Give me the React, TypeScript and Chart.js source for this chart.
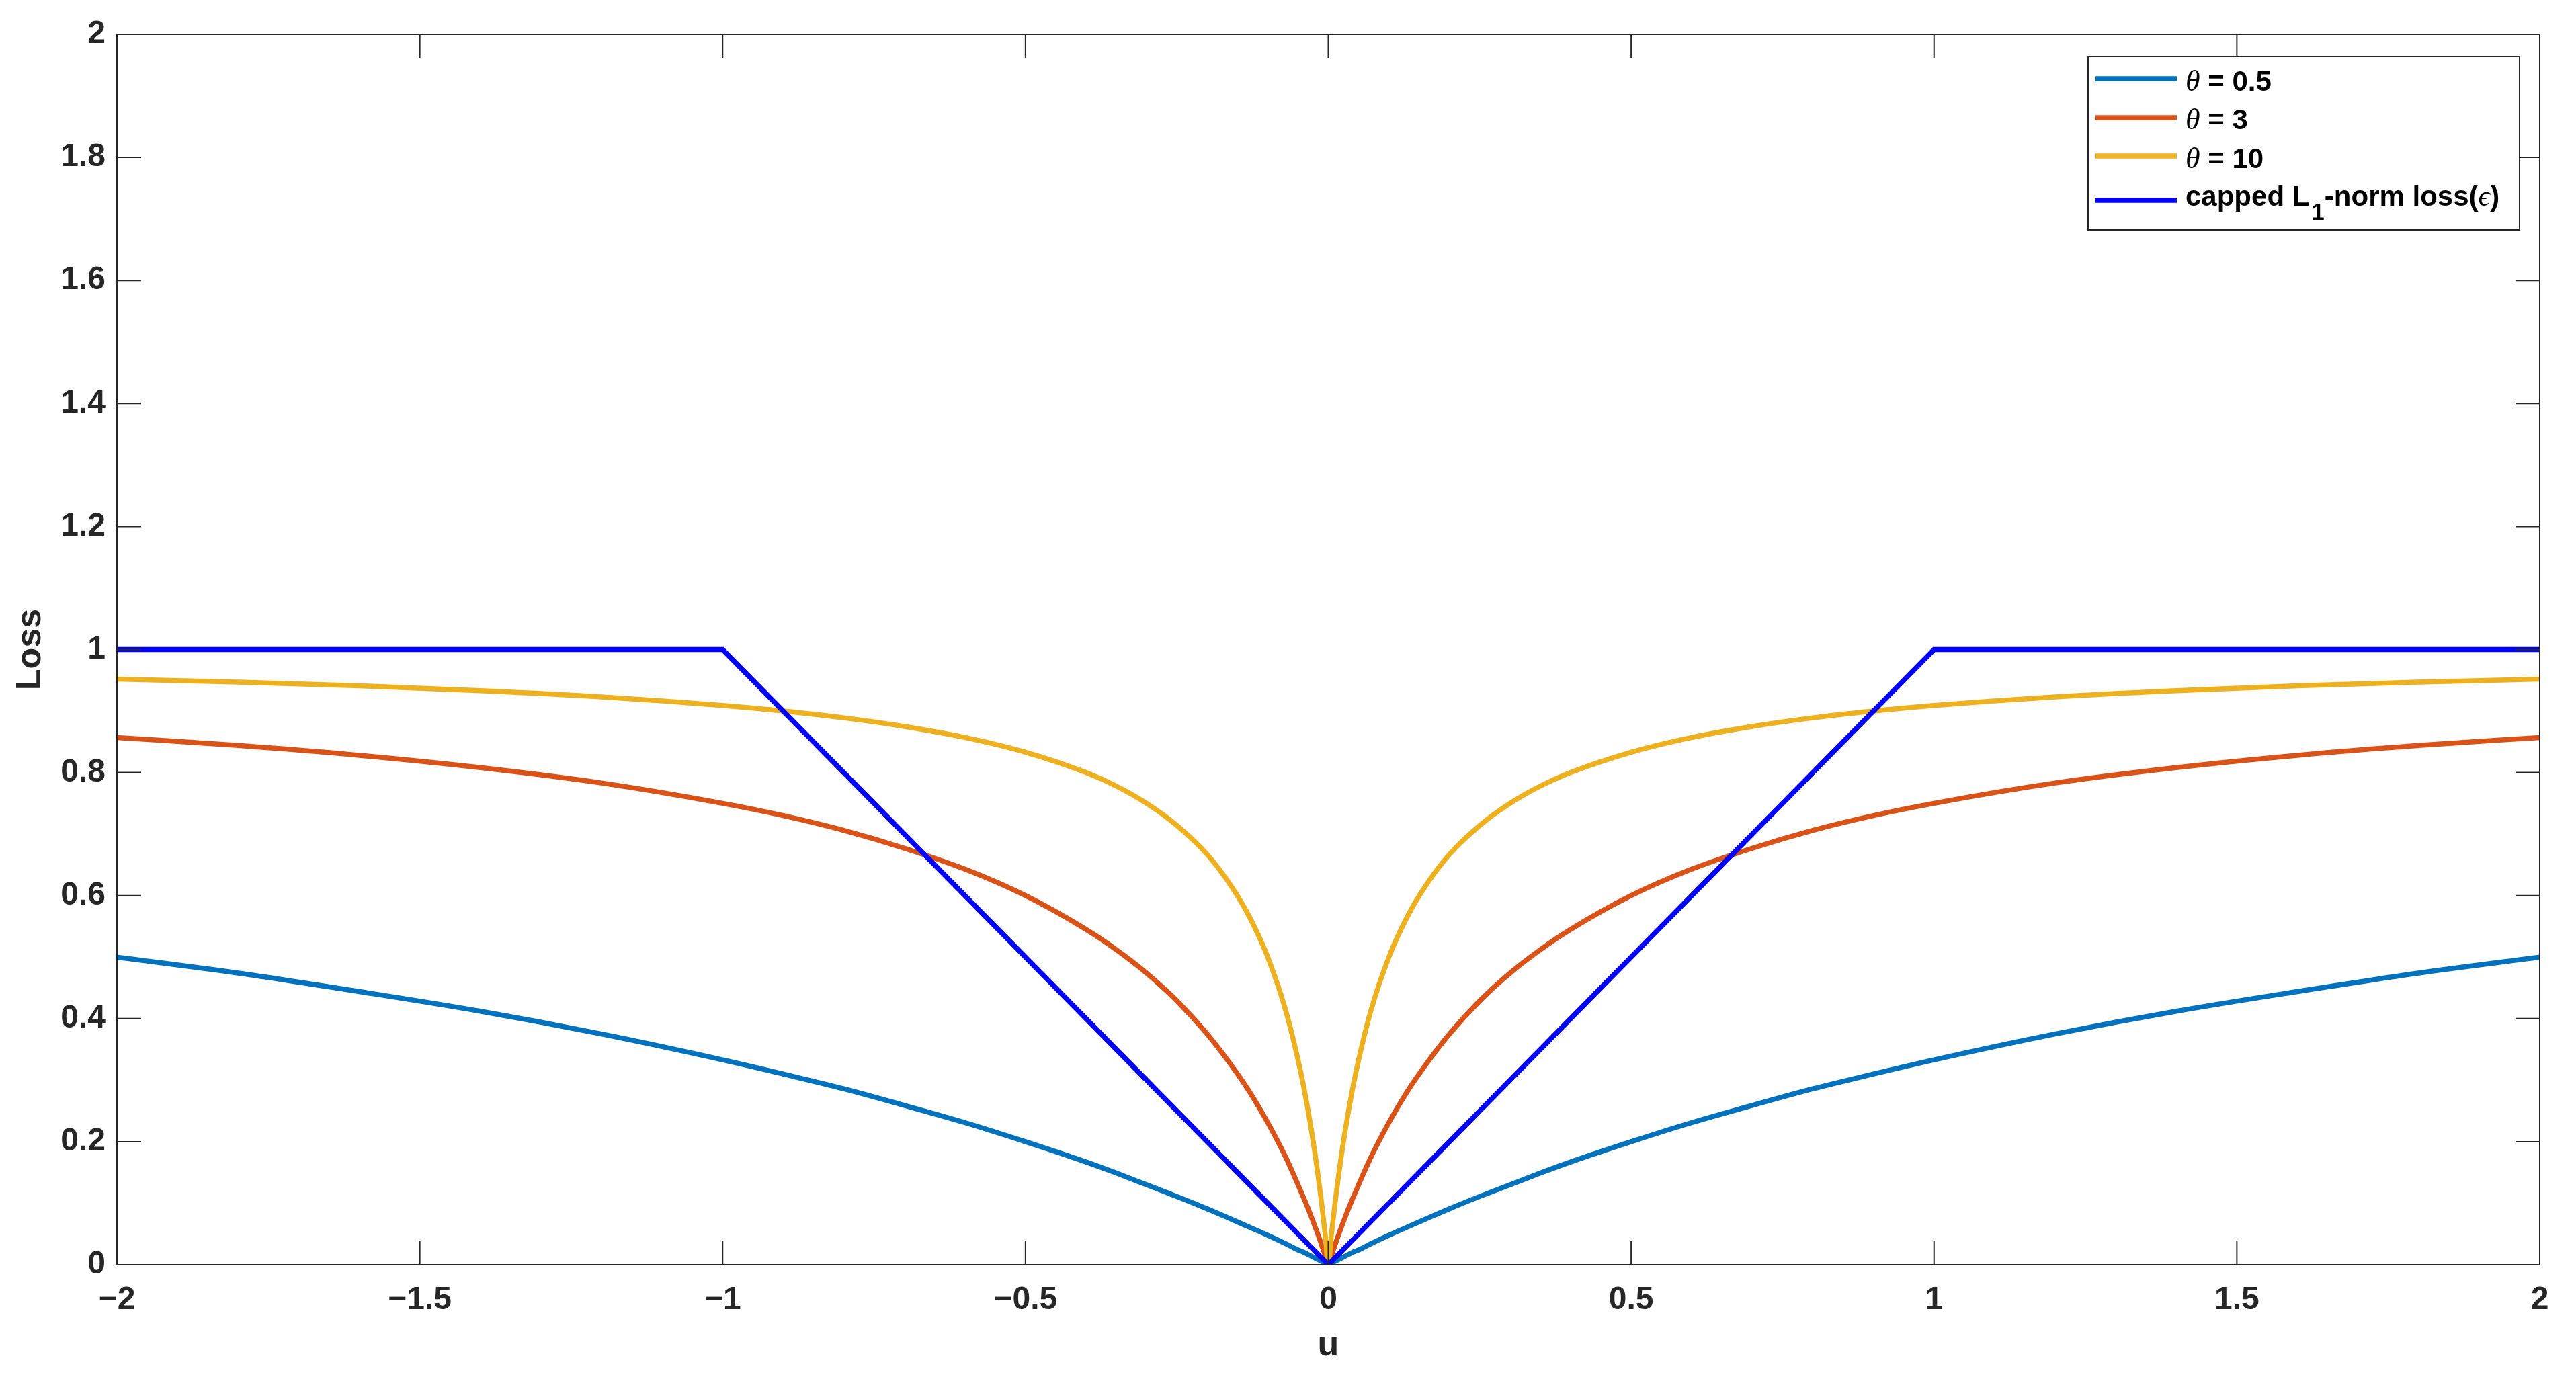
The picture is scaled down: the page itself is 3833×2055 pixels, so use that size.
import React, { useEffect, useRef } from 'react';
import { Chart, registerables } from 'chart.js';

Chart.register(...registerables);

// ---------- data ----------
const uValues = [
  -2, -1.8, -1.6, -1.4, -1.2, -1, -0.9, -0.8, -0.7, -0.6, -0.5, -0.4, -0.35, -0.3, -0.25, -0.2,
  -0.16, -0.13, -0.1, -0.07, -0.05, -0.04, -0.03, -0.02, -0.01, -0.005, 0,
  0.005, 0.01, 0.02, 0.03, 0.04, 0.05, 0.07, 0.1, 0.13, 0.16, 0.2, 0.25, 0.3, 0.35, 0.4,
  0.5, 0.6, 0.7, 0.8, 0.9, 1, 1.2, 1.4, 1.6, 1.8, 2,
];

const lossTheta05 = [
  0.5, 0.474, 0.444, 0.412, 0.375, 0.333, 0.31, 0.286, 0.259, 0.231, 0.2, 0.167, 0.149, 0.13, 0.111, 0.091,
  0.074, 0.061, 0.048, 0.034, 0.024, 0.02, 0.015, 0.01, 0.005, 0.002, 0,
  0.002, 0.005, 0.01, 0.015, 0.02, 0.024, 0.034, 0.048, 0.061, 0.074, 0.091, 0.111, 0.13, 0.149, 0.167,
  0.2, 0.231, 0.259, 0.286, 0.31, 0.333, 0.375, 0.412, 0.444, 0.474, 0.5,
];

const lossTheta3 = [
  0.857, 0.844, 0.828, 0.808, 0.783, 0.75, 0.73, 0.706, 0.677, 0.643, 0.6, 0.545, 0.512, 0.474, 0.429, 0.375,
  0.324, 0.281, 0.231, 0.174, 0.13, 0.107, 0.083, 0.057, 0.029, 0.015, 0,
  0.015, 0.029, 0.057, 0.083, 0.107, 0.13, 0.174, 0.231, 0.281, 0.324, 0.375, 0.429, 0.474, 0.512, 0.545,
  0.6, 0.643, 0.677, 0.706, 0.73, 0.75, 0.783, 0.808, 0.828, 0.844, 0.857,
];

const lossTheta10 = [
  0.952, 0.947, 0.941, 0.933, 0.923, 0.909, 0.9, 0.889, 0.875, 0.857, 0.833, 0.8, 0.778, 0.75, 0.714, 0.667,
  0.615, 0.565, 0.5, 0.412, 0.333, 0.286, 0.231, 0.167, 0.091, 0.048, 0,
  0.048, 0.091, 0.167, 0.231, 0.286, 0.333, 0.412, 0.5, 0.565, 0.615, 0.667, 0.714, 0.75, 0.778, 0.8,
  0.833, 0.857, 0.875, 0.889, 0.9, 0.909, 0.923, 0.933, 0.941, 0.947, 0.952,
];

const cappedU = [-2, -1, 0, 1, 2];
const cappedLoss = [1, 1, 0, 1, 1];

const seriesLabels = ['θ = 0.5', 'θ = 3', 'θ = 10', 'capped L1-norm loss(ϵ)'];
const seriesColors = ['#0072BD', '#D95319', '#EDB120', '#0000FF'];

const xTickValues = [-2, -1.5, -1, -0.5, 0, 0.5, 1, 1.5, 2];
const xTickLabels = ['−2', '−1.5', '−1', '−0.5', '0', '0.5', '1', '1.5', '2'];
const yTickValues = [0, 0.2, 0.4, 0.6, 0.8, 1, 1.2, 1.4, 1.6, 1.8, 2];
const yTickLabels = ['0', '0.2', '0.4', '0.6', '0.8', '1', '1.2', '1.4', '1.6', '1.8', '2'];

const xTitle = 'u';
const yTitle = 'Loss';

// ---------- styling ----------
const SANS = '"Liberation Sans", Arial, Helvetica, sans-serif';
const SERIF = '"Liberation Serif", "DejaVu Serif", "Times New Roman", serif';
const INK = '#262626';
const LINE_W = 7.5;

const toPoints = (xs: number[], ys: number[]) => xs.map((x, i) => ({ x, y: ys[i] }));

function drawRich(ctx: CanvasRenderingContext2D, label: string, x: number, baseline: number) {
  const parts = label.split(/(θ|ϵ|(?<=L)1)/).filter((p) => p.length > 0);
  let cx = x;
  let prev = '';
  ctx.textBaseline = 'alphabetic';
  ctx.textAlign = 'left';
  ctx.fillStyle = '#000000';
  for (const p of parts) {
    let y = baseline;
    if (p === 'θ' || p === 'ϵ') {
      ctx.font = `italic 44px ${SERIF}`;
    } else if (p === '1' && prev.endsWith('L')) {
      ctx.font = `bold 35px ${SANS}`;
      y = baseline + 21;
      cx += 3;
    } else {
      ctx.font = `bold 42px ${SANS}`;
    }
    ctx.fillText(p, cx, y);
    cx += ctx.measureText(p).width;
    prev = p;
  }
}

const frameAndLegend = {
  id: 'frameAndLegend',
  afterDatasetsDraw(chart: any) {
    const { ctx, chartArea: a, scales } = chart;
    const xs = scales.x;
    const ys = scales.y;
    const TL = 36;
    ctx.save();
    ctx.strokeStyle = INK;
    ctx.lineWidth = 2;
    ctx.lineCap = 'butt';
    ctx.beginPath();
    for (const v of xTickValues) {
      const px = xs.getPixelForValue(v);
      ctx.moveTo(px, a.bottom);
      ctx.lineTo(px, a.bottom - TL);
      ctx.moveTo(px, a.top);
      ctx.lineTo(px, a.top + TL);
    }
    for (const v of yTickValues) {
      const py = ys.getPixelForValue(v);
      ctx.moveTo(a.left, py);
      ctx.lineTo(a.left + TL, py);
      ctx.moveTo(a.right, py);
      ctx.lineTo(a.right - TL, py);
    }
    ctx.stroke();
    ctx.strokeRect(a.left, a.top, a.right - a.left, a.bottom - a.top);

    // legend box
    const bw = 642;
    const bh = 258;
    const bx = a.right - 30 - bw;
    const by = a.top + 33;
    ctx.fillStyle = '#ffffff';
    ctx.fillRect(bx, by, bw, bh);
    ctx.strokeStyle = INK;
    ctx.lineWidth = 2;
    ctx.strokeRect(bx, by, bw, bh);
    const lineOffsets = [33, 91, 148, 214];
    const textOffsets = [18, 17, 18, 8];
    chart.data.datasets.forEach((ds: any, i: number) => {
      const ly = by + lineOffsets[i];
      ctx.strokeStyle = ds.borderColor;
      ctx.lineWidth = LINE_W;
      ctx.beginPath();
      ctx.moveTo(bx + 11, ly);
      ctx.lineTo(bx + 132, ly);
      ctx.stroke();
      drawRich(ctx, ds.label, bx + 145, ly + textOffsets[i]);
    });
    ctx.restore();
  },
};

export default function App() {
  const ref = useRef<HTMLCanvasElement>(null);
  useEffect(() => {
    document.body.style.margin = '0';
    const canvas = ref.current;
    if (!canvas) return;
    const tickFont = { family: SANS, size: 48, weight: 'bold' as const, lineHeight: 1.2 };
    const titleFont = { family: SANS, size: 52, weight: 'bold' as const, lineHeight: 1.2 };
    const smooth = { cubicInterpolationMode: 'monotone' as const, borderJoinStyle: 'round' as const };
    const chart = new Chart(canvas, {
      type: 'line',
      data: {
        datasets: [
          { label: seriesLabels[0], data: toPoints(uValues, lossTheta05), borderColor: seriesColors[0], order: 3, ...smooth },
          { label: seriesLabels[1], data: toPoints(uValues, lossTheta3), borderColor: seriesColors[1], order: 2, ...smooth },
          { label: seriesLabels[2], data: toPoints(uValues, lossTheta10), borderColor: seriesColors[2], order: 1, ...smooth },
          { label: seriesLabels[3], data: toPoints(cappedU, cappedLoss), borderColor: seriesColors[3], order: 0, tension: 0, borderJoinStyle: 'miter' },
        ],
      },
      options: {
        animation: false,
        responsive: false,
        devicePixelRatio: 1,
        events: [],
        layout: { padding: { top: 51, right: 54, left: 0, bottom: 0 } },
        elements: {
          point: { radius: 0, hoverRadius: 0 },
          line: { tension: 0, borderWidth: LINE_W, fill: false, borderCapStyle: 'butt' },
        },
        plugins: {
          legend: { display: false },
          tooltip: { enabled: false },
        },
        scales: {
          x: {
            type: 'linear',
            min: -2,
            max: 2,
            afterBuildTicks: (s: any) => {
              s.ticks = xTickValues.map((v) => ({ value: v }));
            },
            afterFit: (s: any) => {
              s.height = 173;
            },
            grid: { display: false, drawTicks: false },
            border: { display: false },
            ticks: {
              autoSkip: false,
              maxRotation: 0,
              minRotation: 0,
              padding: 24,
              color: INK,
              font: tickFont,
              callback: (v: any) => xTickLabels[xTickValues.indexOf(Number(v))] ?? '',
            },
            title: { display: true, text: xTitle, color: INK, font: titleFont, padding: { top: 0, bottom: 21 } },
          },
          y: {
            type: 'linear',
            min: 0,
            max: 2,
            afterBuildTicks: (s: any) => {
              s.ticks = yTickValues.map((v) => ({ value: v }));
            },
            afterFit: (s: any) => {
              s.width = 174;
            },
            grid: { display: false, drawTicks: false },
            border: { display: false },
            ticks: {
              autoSkip: false,
              padding: 17,
              color: INK,
              font: tickFont,
              callback: (v: any) => yTickLabels[yTickValues.indexOf(Number(v))] ?? '',
            },
            title: { display: true, text: yTitle, color: INK, font: titleFont, padding: { top: 14, bottom: 0 } },
          },
        },
      },
      plugins: [frameAndLegend],
    } as any);
    return () => chart.destroy();
  }, []);
  return (
    <canvas
      ref={ref}
      width={3833}
      height={2055}
      style={{ display: 'block', width: '3833px', height: '2055px' }}
    />
  );
}
